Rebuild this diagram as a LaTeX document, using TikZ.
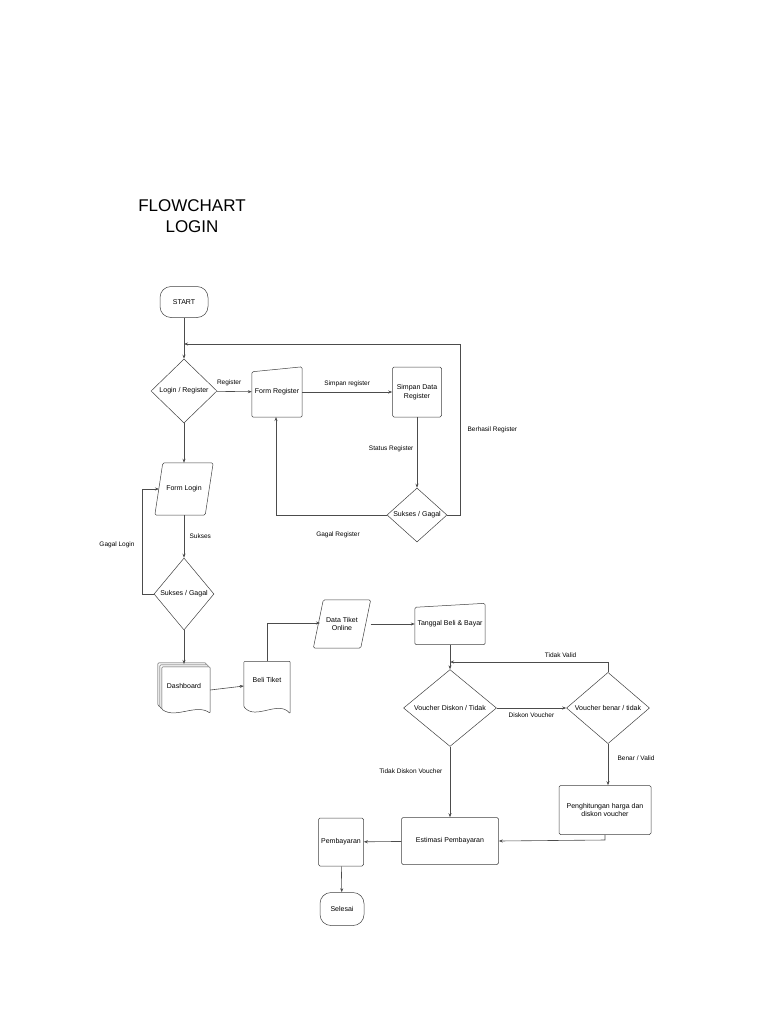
\documentclass[tikz,border=0pt]{standalone}
\usepackage{fontspec}
\setmainfont{Liberation Sans}
\usetikzlibrary{shapes.geometric,arrows.meta}
\begin{document}
\begin{tikzpicture}[x=1pt,y=-1pt,
  every node/.style={font=\fontsize{7}{8.5}\selectfont},
  box/.style={draw=black!75,rounded corners=1.5pt,line width=0.5pt,align=center,inner sep=1pt},
  term/.style={draw=black!75,rounded corners=11pt,line width=0.5pt,minimum width=48pt,minimum height=31pt},
  dia/.style={draw=black!75,diamond,line width=0.5pt,inner sep=0pt,align=center},
  shp/.style={black!75,line width=0.5pt,rounded corners=1.5pt},
  lab/.style={font=\fontsize{6.5}{7.5}\selectfont},
  line/.style={draw=black!70,line width=0.6pt},
  arr/.style={line,-{Stealth[length=4pt,width=3pt]}}]
\useasboundingbox (0,0) rectangle (768,1024);
\node[font=\fontsize{17}{21}\selectfont,align=center] (title) at (192,216) {FLOWCHART\\LOGIN};
\node[term] (start) at (184,302) {START};
\node[dia,minimum width=66pt,minimum height=64pt] (lr) at (184,391) {Login / Register};
\node[minimum width=50pt,minimum height=50pt,inner sep=0pt] (freg) at (277,392) {Form Register};
\draw[shp] (freg.south west) -- (freg.south east) -- (freg.north east) -- ([yshift=-5pt]freg.north west) -- cycle;
\node[box,minimum width=49pt,minimum height=50pt] (sdr) at (417,392) {Simpan Data\\Register};
\node[dia,minimum width=60pt,minimum height=47pt] (sgr) at (417,515) {Sukses / Gagal};
\node[minimum width=58pt,minimum height=52pt,inner sep=0pt] (flog) at (184,489) {Form Login};
\draw[shp] ([xshift=8pt]flog.north west) -- (flog.north east) -- ([xshift=-8pt]flog.south east) -- (flog.south west) -- cycle;
\node[dia,minimum width=60pt,minimum height=72pt] (sgl) at (184,594) {Sukses / Gagal};
% Dashboard multi document
\node[minimum width=48pt,minimum height=46pt,inner sep=0pt] (dash) at (186,690) {};
\foreach \o in {-4,-2,0}{
\draw[black!75,line width=0.5pt,fill=white,rounded corners=1pt] ([xshift=\o pt,yshift=-\o pt]dash.north west) -- ([xshift=\o pt,yshift=-\o pt]dash.north east) -- ([xshift=\o pt,yshift=-\o pt]dash.south east) .. controls +(-14,-10) and +(14,10) .. ([xshift=\o pt,yshift=-\o pt+4pt]dash.south west) -- cycle;}
\node at (184,686) {Dashboard};
\node[minimum width=46pt,minimum height=49pt,inner sep=0pt] (beli) at (267,686) {};
\draw[black!75,line width=0.5pt,rounded corners=1pt] (beli.north west) -- (beli.north east) -- ([yshift=-3pt]beli.south east) .. controls +(-12,-14) and +(12,14) .. ([yshift=4pt]beli.south west) -- cycle;
\node at (267,680) {Beli Tiket};
\node[minimum width=57pt,minimum height=48pt,inner sep=0pt,align=center] (dto) at (342,624) {Data Tiket\\Online};
\draw[shp] ([xshift=10pt]dto.north west) -- (dto.north east) -- ([xshift=-10pt]dto.south east) -- (dto.south west) -- cycle;
\node[minimum width=70pt,minimum height=41pt,inner sep=0pt] (tbb) at (450,624) {Tanggal Beli \& Bayar};
\draw[shp] (tbb.south west) -- (tbb.south east) -- (tbb.north east) -- ([yshift=-4pt]tbb.north west) -- cycle;
\node[dia,minimum width=93pt,minimum height=57pt] (vdt) at (450,708) {Voucher Diskon / Tidak};
\node[dia,minimum width=83pt,minimum height=63pt] (vbt) at (608,708) {Voucher benar / tidak};
\node[box,minimum width=92pt,minimum height=49pt] (phd) at (605,810) {Penghitungan harga dan\\diskon voucher};
\node[box,minimum width=97pt,minimum height=47pt] (est) at (450,841) {Estimasi Pembayaran};
\node[box,minimum width=45pt,minimum height=48pt] (pem) at (341,842) {Pembayaran};
\node[term,minimum width=44pt,minimum height=33pt] (sel) at (342,909) {Selesai};
% connectors
\coordinate (j1) at (184,344);
\draw[arr] (start) -- (lr);
\draw[arr] (lr) -- node[lab,above,pos=0.35,yshift=2pt]{Register} (freg);
\draw[arr] (freg) -- node[lab,above,yshift=2pt]{Simpan register} (sdr);
\draw[arr] (sdr) -- node[lab,left,pos=0.45]{Status Register} (sgr);
\draw[arr] (sgr.east) -- (460,515) -- node[lab,right,pos=0.5,xshift=4pt]{Berhasil Register} (460,344) -- (j1);
\draw[arr] (sgr.west) -- (276,515) -- (276,417);
\node[lab] at (338,535) {Gagal Register};
\draw[arr] (lr) -- (flog);
\draw[arr] (flog) -- node[lab,right,xshift=2pt]{Sukses} (sgl);
\draw[arr] (sgl.west) -- (142,594) -- (142,489) -- (159,489);
\node[lab] at (117,545) {Gagal Login};
\draw[arr] (sgl) -- (184,664);
\draw[arr] (dash.east) -- (beli.west);
\draw[arr] (beli.north) -- (267,623) -- (320,623);
\draw[arr] (dto) -- (tbb);
\draw[arr] (tbb) -- (vdt);
\draw[arr] (vdt) -- node[lab,below,yshift=-1pt]{Diskon Voucher} (vbt);
\draw[arr] (vbt.north) -- (608,662) -- node[lab,above,pos=0.3,yshift=1pt]{Tidak Valid} (450,662);
\draw[arr] (vbt) -- node[lab,right,xshift=6pt,pos=0.35]{Benar / Valid} (phd.north -| vbt);
\draw[arr] (vdt) -- node[lab,left,xshift=-4pt,pos=0.35]{Tidak Diskon Voucher} (est);
\draw[arr] (phd.south) -- (605,840) -- (est.east);
\draw[arr] (est) -- (pem);
\draw[arr] (pem) -- (sel);
\end{tikzpicture}
\end{document}
